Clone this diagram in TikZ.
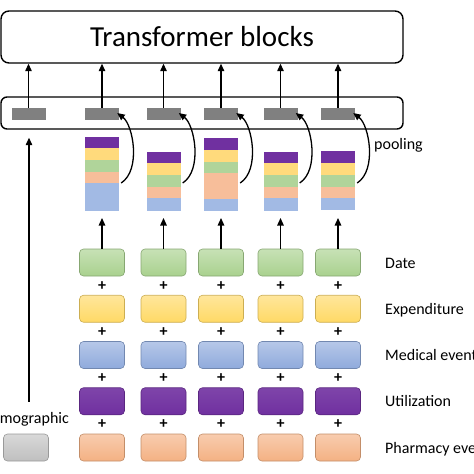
\documentclass[tikz,border=0pt]{standalone}
\usepackage{fontspec}
\setmainfont{Carlito}
\usetikzlibrary{calc,arrows.meta}
\definecolor{cgreen}{HTML}{A9D18E}
\definecolor{cyellow}{HTML}{FFD966}
\definecolor{cblue}{HTML}{8FAADC}
\definecolor{cpurple}{HTML}{7030A0}
\definecolor{corange}{HTML}{F4B183}
\definecolor{cgray}{HTML}{BFBFBF}
\definecolor{cbar}{HTML}{808080}
\definecolor{lay1}{HTML}{7030A0}
\definecolor{lay2}{HTML}{FFDA7C}
\definecolor{lay3}{HTML}{B0D49A}
\definecolor{lay4}{HTML}{F7BE9A}
\definecolor{lay5}{HTML}{A2BAE4}

\begin{document}
\begin{tikzpicture}[x=1pt,y=-1pt,
  arr/.style={line width=1.3pt,-{Triangle[length=7.5pt,width=6.5pt]}},
  frame/.style={draw,line width=1.4pt,inner sep=0pt},
  bar/.style={fill=cbar,minimum width=34pt,minimum height=12pt,inner sep=0pt},
  emb/.style 2 args={draw=#1!80!black,top color=#1!#2!white,bottom color=#1,rounded corners=4pt,
    minimum width=45pt,minimum height=27pt,inner sep=0pt,line width=0.6pt},
  plus/.style={font=\fontsize{16}{16}\selectfont\bfseries,inner sep=0pt},
  lab/.style={font=\fontsize{16}{18}\selectfont,anchor=base west,inner sep=0pt}]
\useasboundingbox (0,0) rectangle (474,474);
\node[frame,rounded corners=8pt,minimum width=402pt,minimum height=52pt,font=\fontsize{29}{32}\selectfont] (tb) at (202,37) {Transformer blocks};
\node[frame,rounded corners=6pt,minimum width=402pt,minimum height=32pt] (pl) at (202,113) {};
\node[bar] (bd) at (28.5,114) {};
\draw[arr] (bd.north) -- (bd.north |- tb.south);
\foreach \x/\yt/\ys [count=\i] in {102/137/{148,160,172,183,211},163.5/152/{163,175,187,198,211},221/138/{150,162,173,199,211},280.5/152/{163,175,187,198,211},338/151/{163,175,187,198,210}} {
  \node[bar] (b\i) at (\x,114) {};
  \draw[arr] (b\i.north) -- (b\i.north |- tb.south);
  \foreach \yb [count=\k,remember=\yb as \ya (initially \yt)] in \ys
    \fill[lay\k] (\x-17,\ya) rectangle (\x+17,\yb);
  \node[inner sep=0pt,minimum width=34pt,minimum height={(211-\yt)*1pt},anchor=south] (st\i) at (\x,211) {};
  \foreach \c/\f [count=\r] in {cgreen/65,cyellow/65,cblue/65,cpurple/90,corange/65}
    \node[emb={\c}{\f}] (e\r-\i) at (\x,{262.5+46.25*(\r-1)}) {};
  \foreach \r [evaluate=\r as \s using int(\r+1)] in {1,...,4}
    \node[plus] (p\r-\i) at ($(e\r-\i)!0.5!(e\s-\i)$) {+};
  \draw[arr,shorten >=7pt] (e1-\i.north) -- (st\i.south);
  \draw[arr] ($(st\i.south east)+(2,-28)$) .. controls +(20,-13) and +(16,12) .. ($(b\i.east)+(-2,-1)$);
}
\foreach \t [count=\r] in {Date,Expenditure,Medical events,Utilization,Pharmacy events}
  \node[lab] (l\r) at (385,{268+46.25*(\r-1)}) {\t};
\node[lab] (lp) at (374,149) {pooling};
\node[emb={cgray}{60}] (gd) at (26,447.5) {};
\node[lab,anchor=base] (ld) at (25.5,423) {Demographic};
\draw[arr,shorten <=10pt,shorten >=8pt] ($(ld.north)+(3.5,0)$) -- ($(ld.north |- pl.south)+(3.5,0)$);
\end{tikzpicture}
\end{document}
